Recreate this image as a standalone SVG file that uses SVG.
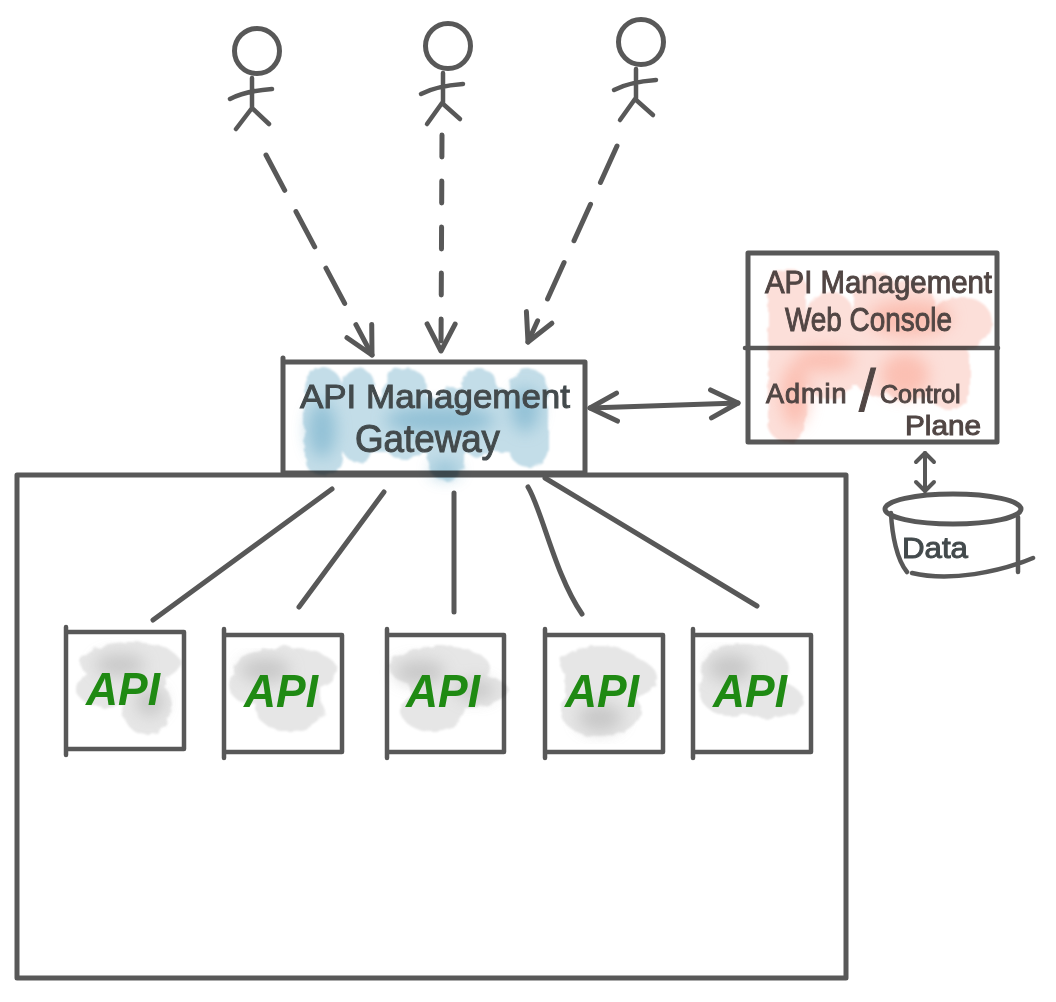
<svg xmlns="http://www.w3.org/2000/svg" width="1056" height="1002" viewBox="0 0 1056 1002">
<style>
.ln{fill:none;stroke:#585858;stroke-width:5;stroke-linecap:round;stroke-linejoin:round}
.thin{stroke-width:4.5}
.dash{stroke-dasharray:40 24}
.hw{font-family:"Liberation Sans",Arial,sans-serif;fill:#434a4c;stroke:#434a4c;stroke-width:1}
.rd{fill:#514644;stroke:#514644}
.api{font-family:"Liberation Sans",Arial,sans-serif;font-style:italic;font-weight:bold;font-size:46px;fill:#1f8a13}
.blob{mix-blend-mode:multiply}
.blue{fill:#c3dde8;filter:url(#edge)}
.blue2{fill:#7fb6cf;opacity:.7;filter:url(#soft)}
.red{fill:#fcdfd9;filter:url(#edge)}
.red2{fill:#fbab9a;opacity:.6;filter:url(#soft)}
.gr{fill:#e6e6e6;filter:url(#edge)}
.gr2{fill:#bcbcbc;opacity:.7;filter:url(#soft)}
</style>
<defs>
<filter id="edge" x="-10%" y="-10%" width="120%" height="120%">
<feTurbulence type="fractalNoise" baseFrequency=".09" numOctaves="2" seed="4"/>
<feDisplacementMap in="SourceGraphic" scale="7"/>
<feGaussianBlur stdDeviation=".8"/>
</filter>
<filter id="soft" x="-40%" y="-40%" width="180%" height="180%"><feGaussianBlur stdDeviation="8"/></filter>
<marker id="open" markerUnits="userSpaceOnUse" markerWidth="60" markerHeight="60" refX="30" refY="30" orient="auto-start-reverse" viewBox="0 0 60 60">
<path d="M3,16 L30,30 L3,44" fill="none" stroke="#585858" stroke-width="5" stroke-linecap="round" stroke-linejoin="round"/>
</marker>
<marker id="small" markerUnits="userSpaceOnUse" markerWidth="40" markerHeight="40" refX="20" refY="20" orient="auto-start-reverse" viewBox="0 0 40 40">
<path d="M11,11 L20,20 L11,29" fill="none" stroke="#585858" stroke-width="4" stroke-linecap="round" stroke-linejoin="round"/>
</marker>
</defs>
<rect width="1056" height="1002" fill="#fff"/>

<g id="platform"><path class="ln" d="M17,475 H846 V978 H17 Z"/></g>

<g id="user1">
<circle class="ln" cx="257" cy="51" r="22.5"/>
<path class="ln thin" d="M252,78 V108 M230,99 Q245,91 272,89 M236,129 L252,108 L269,124"/>
</g>
<g id="user2">
<circle class="ln" cx="448" cy="46" r="22.5"/>
<path class="ln thin" d="M443,73 V103 M421,94 Q436,86 463,84 M427,124 L442,103 L460,119"/>
</g>
<g id="user3">
<circle class="ln" cx="641" cy="42" r="22.5"/>
<path class="ln thin" d="M636,69 V99 M614,90 Q629,82 656,80 M620,120 L635,99 L653,115"/>
</g>

<g id="connectors">
<path class="ln dash" d="M266,155 L372,355" marker-end="url(#open)"/>
<path class="ln dash" d="M442,135 L441,351" marker-end="url(#open)" style="stroke-dasharray:22 24"/>
<path class="ln dash" d="M617,146 L528,342" marker-end="url(#open)"/>
<path class="ln" d="M590,408 L738,403" marker-start="url(#open)" marker-end="url(#open)"/>
<path class="ln" style="stroke-width:4" d="M925,453 L925,491" marker-start="url(#small)" marker-end="url(#small)"/>
<path class="ln" d="M332,489 L153,620"/>
<path class="ln" d="M384,492 L299,607"/>
<path class="ln" d="M454,493 V612"/>
<path class="ln" d="M528,487 C542,510 555,575 582,614"/>
<path class="ln" d="M545,478 L757,606"/>
</g>

<g id="gateway">
<path class="ln" d="M283,358 V472 M283,362 H585 V472 M283,473 H585"/>
<g class="blob">
<g class="blue">
<rect x="304" y="368" width="38" height="108" rx="19"/><rect x="342" y="368" width="32" height="94" rx="16"/><rect x="383" y="368" width="45" height="92" rx="22"/><rect x="427" y="410" width="38" height="70" rx="19"/><rect x="462" y="369" width="36" height="88" rx="18"/><rect x="509" y="369" width="39" height="98" rx="19"/><rect x="304" y="398" width="244" height="54" rx="14"/><rect x="440" y="388" width="70" height="50" rx="10"/>
</g>
<g class="blue2"><ellipse cx="322" cy="430" rx="14" ry="28"/><ellipse cx="440" cy="420" rx="55" ry="14"/><ellipse cx="525" cy="410" rx="14" ry="22"/><ellipse cx="445" cy="470" rx="14" ry="8"/></g>
</g>
<text class="hw" x="300" y="408" font-size="34" textLength="270" lengthAdjust="spacingAndGlyphs">API  Management</text>
<text class="hw" x="355" y="452" font-size="38" textLength="145" lengthAdjust="spacingAndGlyphs">Gateway</text>
</g>

<g id="console">
<path class="ln" d="M748,253 H997 V442 H748 Z"/>
<path class="ln thin" d="M745,348 H998"/>
<g class="blob">
<g class="red">
<rect x="768" y="268" width="38" height="174" rx="19"/><rect x="806" y="292" width="48" height="108" rx="24"/><rect x="854" y="272" width="44" height="124" rx="22"/><rect x="880" y="280" width="56" height="122" rx="28"/><rect x="932" y="298" width="60" height="50" rx="25"/><rect x="928" y="340" width="42" height="70" rx="21"/><rect x="770" y="325" width="190" height="60" rx="14"/>
</g>
<g class="red2"><ellipse cx="795" cy="395" rx="14" ry="32"/><ellipse cx="910" cy="318" rx="42" ry="18"/><ellipse cx="905" cy="375" rx="24" ry="22"/><ellipse cx="825" cy="360" rx="30" ry="12"/></g>
</g>
<text class="hw rd" x="765" y="293" font-size="32" textLength="227" lengthAdjust="spacingAndGlyphs">API Management</text>
<text class="hw rd" x="785" y="331" font-size="34" textLength="167" lengthAdjust="spacingAndGlyphs">Web Console</text>
<text class="hw rd" x="766" y="403" font-size="27" letter-spacing="1">Admin <tspan x="859" y="411" font-size="60" letter-spacing="0">/</tspan></text>
<text class="hw rd" x="880" y="403" font-size="25">Control</text>
<text class="hw rd" x="905" y="435" font-size="28" textLength="76" lengthAdjust="spacingAndGlyphs">Plane</text>
</g>

<g id="data">
<ellipse class="ln" cx="953" cy="509" rx="68" ry="15"/>
<path class="ln thin" d="M891,513 C892,535 897,560 907,572 M1018,517 V572 M912,573 C950,582 1000,572 1033,558"/>
<text class="hw" x="902" y="558" font-size="29" textLength="66" lengthAdjust="spacingAndGlyphs">Data</text>
</g>

<g id="api1">
<path class="ln thin" d="M66,627 V755 M66,632 H184 V749 H66"/>
<g class="blob"><g class="gr"><ellipse cx="130" cy="663" rx="50" ry="21"/><ellipse cx="105" cy="688" rx="29" ry="19"/><ellipse cx="147" cy="707" rx="25" ry="28"/><rect x="95" y="670" width="70" height="30"/></g><g class="gr2"><ellipse cx="120" cy="665" rx="25" ry="11"/><ellipse cx="150" cy="702" rx="14" ry="14"/></g></g>
<text class="api" x="86" y="705" textLength="74" lengthAdjust="spacingAndGlyphs">API</text>
</g>
<g id="api2">
<path class="ln thin" d="M224,629 V758 M224,635 H342 V752 H224"/>
<g class="blob"><g class="gr"><ellipse cx="285" cy="670" rx="52" ry="23"/><ellipse cx="255" cy="685" rx="26" ry="20"/><ellipse cx="290" cy="710" rx="34" ry="21"/><rect x="260" y="675" width="60" height="30"/></g><g class="gr2"><ellipse cx="265" cy="670" rx="25" ry="12"/></g></g>
<text class="api" x="244" y="707" textLength="74" lengthAdjust="spacingAndGlyphs">API</text>
</g>
<g id="api3">
<path class="ln thin" d="M387,629 V758 M387,635 H504 V752 H387"/>
<g class="blob"><g class="gr"><ellipse cx="440" cy="668" rx="50" ry="22"/><ellipse cx="460" cy="690" rx="48" ry="17"/><ellipse cx="432" cy="710" rx="32" ry="21"/><rect x="410" y="675" width="60" height="30"/></g><g class="gr2"><ellipse cx="420" cy="672" rx="25" ry="12"/><ellipse cx="475" cy="690" rx="20" ry="10"/></g></g>
<text class="api" x="406" y="707" textLength="74" lengthAdjust="spacingAndGlyphs">API</text>
</g>
<g id="api4">
<path class="ln thin" d="M545,629 V758 M545,635 H663 V752 H545"/>
<g class="blob"><g class="gr"><ellipse cx="600" cy="665" rx="40" ry="19"/><ellipse cx="625" cy="678" rx="32" ry="20"/><ellipse cx="600" cy="710" rx="40" ry="27"/><rect x="565" y="670" width="70" height="30"/></g><g class="gr2"><ellipse cx="600" cy="718" rx="22" ry="14"/></g></g>
<text class="api" x="565" y="707" textLength="74" lengthAdjust="spacingAndGlyphs">API</text>
</g>
<g id="api5">
<path class="ln thin" d="M693,629 V758 M693,635 H811 V752 H693"/>
<g class="blob"><g class="gr"><ellipse cx="745" cy="668" rx="44" ry="24"/><ellipse cx="730" cy="690" rx="31" ry="26"/><ellipse cx="770" cy="700" rx="33" ry="19"/><rect x="715" y="670" width="70" height="30"/></g><g class="gr2"><ellipse cx="730" cy="668" rx="22" ry="14"/></g></g>
<text class="api" x="713" y="707" textLength="74" lengthAdjust="spacingAndGlyphs">API</text>
</g>
</svg>
